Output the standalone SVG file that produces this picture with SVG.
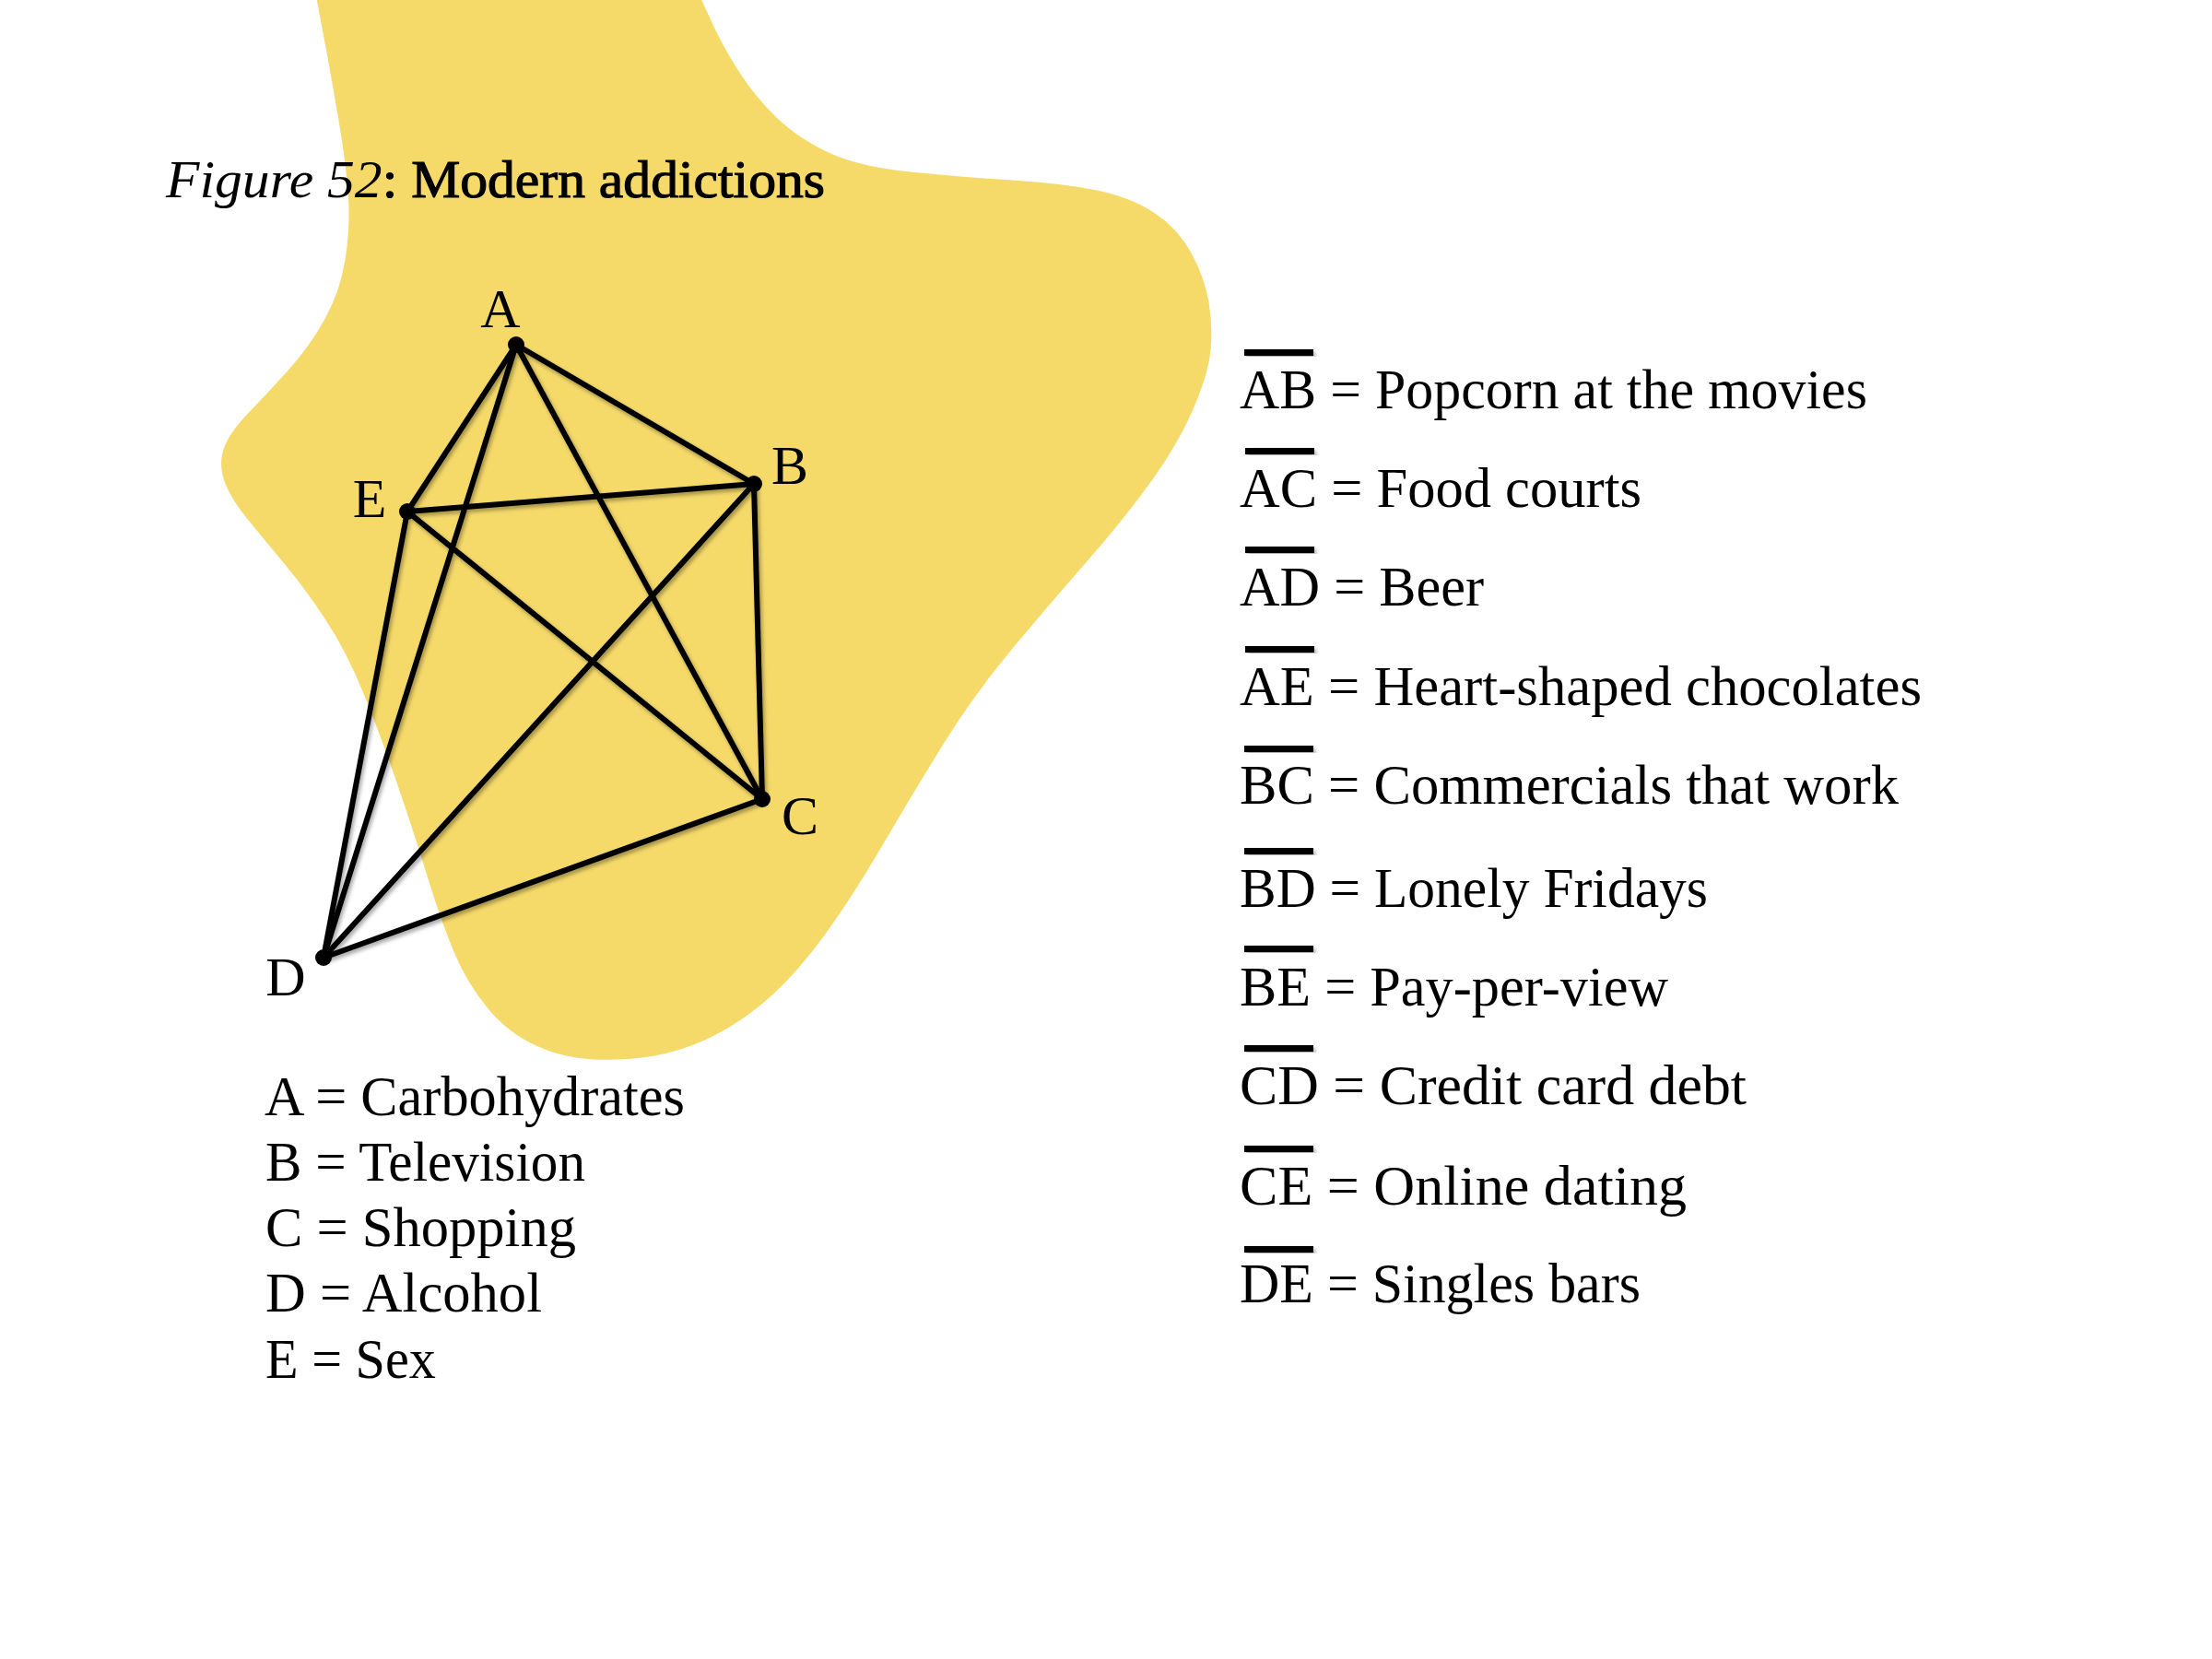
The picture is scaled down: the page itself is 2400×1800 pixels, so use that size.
<svg xmlns="http://www.w3.org/2000/svg" width="2400" height="1800" viewBox="0 0 2400 1800">
<defs>
<filter id="sh" x="-10%" y="-10%" width="120%" height="120%">
<feDropShadow dx="2" dy="3" stdDeviation="2" flood-color="#000" flood-opacity="0.35"/>
</filter>
<style>
text{font-family:"Liberation Serif","Times New Roman",serif;fill:#000}
.lbl{font-size:60px;text-anchor:middle}
.leg{font-size:62px}
.edge{stroke:#000;stroke-width:6;stroke-linecap:round;fill:none}
.dot{fill:#000}
.bar{fill:#000}
</style>
</defs>
<rect width="2400" height="1800" fill="#fff"/>
<path id="blob" fill="#F5DA6A" d="M340,-20 L349,27.5 Q358,75 367,128 Q376,181 378,214.5 Q380,248 374.5,282 Q369,316 352.5,346 Q336,376 312,402.5 Q288,429 269.5,448 Q251,467 244,483.5 Q237,500 242.5,519 Q248,538 268,562.5 Q288,587 310,613.5 Q332,640 354,673.5 Q376,707 394.5,752.5 Q413,798 431,850.5 Q449,903 464,952 Q479,1001 493.5,1035 Q508,1069 530,1095 Q552,1121 581.5,1134.5 Q611,1148 644,1149.5 Q677,1151 710,1145.5 Q743,1140 776,1123 Q809,1106 838,1079.5 Q867,1053 896.5,1012 Q926,971 959,914.5 Q992,858 1025,805 Q1058,752 1098.5,703.5 Q1139,655 1179,609.5 Q1219,564 1248.5,523 Q1278,482 1294.5,444 Q1311,406 1313.5,380 Q1316,354 1311.5,327.5 Q1307,301 1292.5,274.5 Q1278,248 1252.5,231 Q1227,214 1190,206.5 Q1153,199 1098,195.5 Q1043,192 988,186.5 Q933,181 900,166 Q867,151 843,128 Q819,105 800,75 Q781,45 767,12.5 L752,-20 Z"/>
<text id="title" x="180" y="214" font-size="58" textLength="715" lengthAdjust="spacingAndGlyphs"><tspan font-style="italic">Figure 52</tspan><tspan stroke="#000" stroke-width="1.2">: Modern addictions</tspan></text>
<g id="connectors" filter="url(#sh)">
<line class="edge" x1="560" y1="374" x2="818" y2="525"/>
<line class="edge" x1="560" y1="374" x2="827" y2="867"/>
<line class="edge" x1="560" y1="374" x2="351" y2="1039"/>
<line class="edge" x1="560" y1="374" x2="442" y2="555"/>
<line class="edge" x1="818" y1="525" x2="827" y2="867"/>
<line class="edge" x1="818" y1="525" x2="351" y2="1039"/>
<line class="edge" x1="818" y1="525" x2="442" y2="555"/>
<line class="edge" x1="827" y1="867" x2="351" y2="1039"/>
<line class="edge" x1="827" y1="867" x2="442" y2="555"/>
<line class="edge" x1="351" y1="1039" x2="442" y2="555"/>
</g>
<g id="node-A"><circle class="dot" cx="560" cy="374" r="9"/><text class="lbl" x="543" y="355">A</text></g>
<g id="node-B"><circle class="dot" cx="818" cy="525" r="9"/><text class="lbl" x="857" y="525">B</text></g>
<g id="node-C"><circle class="dot" cx="827" cy="867" r="9"/><text class="lbl" x="868" y="905">C</text></g>
<g id="node-D"><circle class="dot" cx="351" cy="1039" r="9"/><text class="lbl" x="310" y="1080">D</text></g>
<g id="node-E"><circle class="dot" cx="442" cy="555" r="9"/><text class="lbl" x="401" y="561">E</text></g>
<g id="legend-nodes">
<text class="leg" x="287" y="1210" textLength="456" lengthAdjust="spacingAndGlyphs">A = Carbohydrates</text>
<text class="leg" x="288" y="1281" textLength="347" lengthAdjust="spacingAndGlyphs">B = Television</text>
<text class="leg" x="288" y="1352" textLength="337" lengthAdjust="spacingAndGlyphs">C = Shopping</text>
<text class="leg" x="288" y="1423" textLength="300" lengthAdjust="spacingAndGlyphs">D = Alcohol</text>
<text class="leg" x="288" y="1495" textLength="185" lengthAdjust="spacingAndGlyphs">E = Sex</text>
</g>
<g id="legend-edges">
<g id="leg-AB"><rect class="bar" filter="url(#sh)" x="1350" y="379" width="75" height="7"/><text class="leg" x="1345" y="443" textLength="681" lengthAdjust="spacingAndGlyphs">AB = Popcorn at the movies</text></g>
<g id="leg-AC"><rect class="bar" filter="url(#sh)" x="1351" y="486" width="75" height="7"/><text class="leg" x="1345" y="550" textLength="436" lengthAdjust="spacingAndGlyphs">AC = Food courts</text></g>
<g id="leg-AD"><rect class="bar" filter="url(#sh)" x="1351" y="593" width="75" height="7"/><text class="leg" x="1345" y="657" textLength="265" lengthAdjust="spacingAndGlyphs">AD = Beer</text></g>
<g id="leg-AE"><rect class="bar" filter="url(#sh)" x="1351" y="701" width="75" height="7"/><text class="leg" x="1345" y="765" textLength="740" lengthAdjust="spacingAndGlyphs">AE = Heart-shaped chocolates</text></g>
<g id="leg-BC"><rect class="bar" filter="url(#sh)" x="1350" y="809" width="75" height="7"/><text class="leg" x="1345" y="872" textLength="715" lengthAdjust="spacingAndGlyphs">BC = Commercials that work</text></g>
<g id="leg-BD"><rect class="bar" filter="url(#sh)" x="1350" y="920" width="75" height="7"/><text class="leg" x="1345" y="984" textLength="508" lengthAdjust="spacingAndGlyphs">BD = Lonely Fridays</text></g>
<g id="leg-BE"><rect class="bar" filter="url(#sh)" x="1350" y="1026" width="75" height="7"/><text class="leg" x="1345" y="1091" textLength="465" lengthAdjust="spacingAndGlyphs">BE = Pay-per-view</text></g>
<g id="leg-CD"><rect class="bar" filter="url(#sh)" x="1350" y="1134" width="75" height="7"/><text class="leg" x="1345" y="1198" textLength="550" lengthAdjust="spacingAndGlyphs">CD = Credit card debt</text></g>
<g id="leg-CE"><rect class="bar" filter="url(#sh)" x="1350" y="1243" width="75" height="7"/><text class="leg" x="1345" y="1307" textLength="485" lengthAdjust="spacingAndGlyphs">CE = Online dating</text></g>
<g id="leg-DE"><rect class="bar" filter="url(#sh)" x="1350" y="1352" width="75" height="7"/><text class="leg" x="1345" y="1413" textLength="435" lengthAdjust="spacingAndGlyphs">DE = Singles bars</text></g>
</g>
</svg>
